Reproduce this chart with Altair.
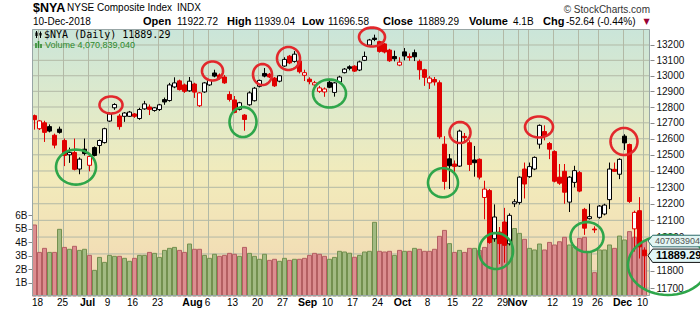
import altair as alt
import numpy as np
import pandas as pd

# ---------------- data ----------------
# trading days 15-Jun-2018 (index 0) ... 10-Dec-2018 (index 122)
OPEN = [12745, 12663, 12700, 12676, 12622, 12660, 12589, 12500, 12514, 12412,
        12535, 12435, 12545, 12558, 12576, 12711, 12795, 12743, 12741, 12741,
        12756, 12727, 12788, 12800, 12778, 12784, 12847, 12841, 12928, 12967,
        12941, 12903, 12947, 12808, 12896, 12941, 13018, 13005, 12992, 12880,
        12845, 12785, 12749, 12814, 12840, 12932, 13015, 13010, 12985, 12965,
        13063, 13127, 13093, 13095, 13003, 12978, 12941, 12900, 12896, 12958,
        12893, 12960, 13020, 13058, 13062, 13037, 13100, 13200, 13245, 13222,
        13207, 13167, 13125, 13069, 13155, 13125, 13150, 13093, 13039, 12954,
        12976, 12955, 12566, 12475, 12443, 12430, 12615, 12575, 12468, 12472,
        12238, 12280, 11990, 12030, 12090, 11960, 12200, 12208, 12412, 12365,
        12412, 12566, 12645, 12570, 12520, 12362, 12398, 12210, 12330, 12390,
        12166, 12110, 12048, 12118, 12138, 12225, 12410, 12380, 12616, 12564,
        12049, 12158, 11922.72]
HIGH = [12752, 12718, 12713, 12690, 12632, 12676, 12601, 12545, 12601, 12484,
        12601, 12502, 12552, 12595, 12669, 12768, 12824, 12756, 12768, 12775,
        12762, 12795, 12839, 12816, 12800, 12820, 12860, 12954, 12990, 12975,
        12950, 12992, 12955, 12895, 12960, 12975, 13039, 13015, 13005, 12900,
        12870, 12833, 12755, 12900, 12928, 12975, 13050, 13018, 12992, 13005,
        13120, 13135, 13160, 13100, 13039, 12990, 12967, 12935, 12925, 12980,
        12960, 13000, 13050, 13068, 13068, 13098, 13157, 13240, 13268, 13228,
        13212, 13175, 13163, 13120, 13180, 13145, 13170, 13105, 13045, 12998,
        12992, 12970, 12616, 12505, 12465, 12657, 12636, 12590, 12555, 12478,
        12340, 12290, 12196, 12060, 12175, 12142, 12228, 12368, 12452, 12452,
        12490, 12690, 12684, 12580, 12528, 12443, 12443, 12368, 12432, 12400,
        12175, 12200, 12064, 12192, 12200, 12452, 12452, 12478, 12628, 12570,
        12158, 12240, 11939.04]
LOW = [12657, 12655, 12580, 12640, 12540, 12632, 12430, 12450, 12404, 12380,
       12496, 12398, 12490, 12508, 12570, 12706, 12782, 12657, 12706, 12737,
       12731, 12719, 12782, 12749, 12770, 12775, 12814, 12834, 12920, 12905,
       12890, 12897, 12858, 12800, 12890, 12935, 12990, 12975, 12948, 12835,
       12760, 12778, 12650, 12808, 12835, 12925, 12990, 12985, 12928, 12958,
       13058, 13075, 13085, 13015, 12966, 12945, 12930, 12890, 12865, 12920,
       12866, 12955, 13015, 13035, 13025, 13030, 13095, 13195, 13225, 13150,
       13145, 13090, 13093, 13062, 13100, 13097, 13095, 12975, 12935, 12915,
       12937, 12600, 12286, 12290, 12395, 12425, 12575, 12400, 12365, 12348,
       12106, 11960, 11972, 11840, 11848, 11950, 12180, 12195, 12232, 12358,
       12405, 12538, 12590, 12473, 12330, 12315, 12200, 12150, 12300, 12270,
       12013, 12105, 12025, 12110, 12130, 12168, 12395, 12350, 12530, 12205,
       11914, 11873, 11696.58]
CLOSE = [12720, 12712, 12640, 12648, 12560, 12640, 12496, 12515, 12410, 12473,
         12508, 12490, 12496, 12589, 12663, 12756, 12816, 12676, 12762, 12768,
         12741, 12784, 12820, 12785, 12795, 12814, 12832, 12941, 12954, 12911,
         12900, 12965, 12895, 12890, 12954, 12970, 12998, 12985, 12954, 12848,
         12766, 12827, 12721, 12890, 12920, 12970, 12998, 12992, 12935, 13000,
         13106, 13083, 13140, 13026, 13020, 12962, 12955, 12922, 12915, 12926,
         12954, 12992, 13043, 13048, 13030, 13090, 13125, 13233, 13236, 13158,
         13154, 13097, 13110, 13088, 13128, 13118, 13123, 13039, 12990, 12985,
         12960, 12612, 12336, 12432, 12428, 12648, 12608, 12440, 12451, 12362,
         12289, 11968, 12120, 11961, 11951, 12130, 12212, 12362, 12320, 12427,
         12484, 12684, 12618, 12535, 12337, 12325, 12270, 12362, 12402, 12277,
         12053, 12122, 12043, 12186, 12192, 12412, 12398, 12472, 12574, 12214,
         12148, 11941.93, 11889.29]
VOLUME_B = [5.26, 3.23, 3.53, 3.23, 3.23, 4.94, 3.60, 3.46, 3.68, 3.38,
            3.46, 3.01, 1.90, 2.86, 2.49, 3.01, 2.94, 2.94, 2.79, 2.57,
            2.79, 3.01, 3.01, 3.23, 3.16, 2.86, 3.38, 3.53, 3.60, 3.38,
            3.23, 3.85, 3.46, 3.46, 3.01, 2.79, 3.09, 2.94, 3.01, 3.16,
            3.09, 2.94, 3.60, 3.16, 2.94, 2.72, 3.09, 2.64, 2.72, 2.57,
            2.79, 2.64, 2.72, 2.72, 2.79, 3.01, 3.16, 3.09, 2.94, 2.72,
            2.86, 3.31, 3.26, 3.17, 2.87, 3.01, 3.26, 3.31, 5.46, 3.31,
            3.26, 3.31, 3.01, 3.38, 3.31, 3.31, 3.53, 3.46, 3.31, 3.31,
            3.46, 4.42, 4.86, 3.88, 3.23, 3.38, 3.23, 3.53, 3.53, 3.38,
            3.60, 4.05, 4.25, 4.60, 4.50, 5.05, 5.00, 4.64, 4.20, 3.53,
            3.41, 3.85, 3.41, 3.97, 3.78, 4.02, 4.35, 3.78, 3.65, 4.27,
            4.35, 3.28, 1.73, 3.41, 3.41, 3.78, 3.53, 4.44, 4.15, 4.77,
            4.35, 4.15, 4.07]
PREV_CLOSE = 12780.0          # close of the day before the first bar
LAST_VOLUME = 4070839040
LAST_DATE = "10-Dec-2018"

LABEL_IDX = [1, 6, 11, 15, 20, 25, 32, 35, 40, 45, 50, 55, 59, 64, 69, 74, 79,
             84, 89, 94, 97, 104, 109, 113, 118, 122]
LABEL_TXT = ["18", "25", "Jul", "9", "16", "23", "Aug", "6", "13", "20", "27",
             "Sep", "10", "17", "24", "Oct", "8", "15", "22", "29", "Nov", "12",
             "19", "26", "Dec", "10"]
MONTHS = {"Jul", "Aug", "Sep", "Oct", "Nov", "Dec"}
GRID_IDX = [1, 6, 11, 15, 20, 25, 30, 32, 35, 40, 45, 50, 55, 59, 64, 69, 74,
            79, 84, 89, 94, 97, 99, 104, 109, 113, 118, 122]
PRICE_TICKS = [11700, 11800, 11900, 12000, 12100, 12200, 12300, 12400, 12500,
               12600, 12700, 12800, 12900, 13000, 13100, 13200]
VOL_TICKS_B = [1, 2, 3, 4, 5, 6]

# hand-drawn circles (centre in bar units / price, size in px)
ANN_X = [15.3, 35.6, 45.6, 50.8, 67.5, 85.1, 100.9, 117.9,
         8.3, 41.7, 59.0, 81.7, 92.3, 110.5, 126.7]
ANN_P = [12813, 13031, 13008, 13112, 13252, 12639, 12674, 12583,
         12424, 12705, 12886, 12328, 11917, 12000, 11835]
ANN_W = [23, 21, 19, 23, 26, 21, 28, 27, 40, 27, 33, 30, 34, 33, 80]
ANN_H = [17, 19, 21, 23, 19, 21, 21, 27, 35, 30, 28, 29, 36, 30, 60]
ANN_KIND = ["peak"] * 8 + ["trough"] * 7

# ---------------- styling ----------------
FONT = "Liberation Sans"
W, H = 618, 267
RED = "#e00000"
BLACK = "#000000"
GRID = "#b2b9a6"
XS = alt.Scale(domain=[-0.5, 123.1], nice=False, zero=False)
PS = alt.Scale(type="log", domain=[11654.1, 13305.2], nice=False, zero=False)
VS = alt.Scale(domain=[0, 19.78e9], nice=False, zero=False)

n = len(CLOSE)
prev = [PREV_CLOSE] + CLOSE[:-1]
col = [RED if c < p else BLACK for c, p in zip(CLOSE, prev)]
fillc = ["#ffffff" if c > o else k for o, c, k in zip(OPEN, CLOSE, col)]
vfill = ["#dc8d8f" if k == RED else "#a2ba82" for k in col]
vstroke = ["#b45f62" if k == RED else "#73904f" for k in col]
idx = np.arange(n)
df = pd.DataFrame({
    "idx": idx, "open": OPEN, "high": HIGH, "low": LOW, "close": CLOSE,
    "vol": np.array(VOLUME_B) * 1e9, "col": col, "fillc": fillc,
    "vfill": vfill, "vstroke": vstroke,
    "bx0": idx - 0.4, "bx1": idx + 0.4,
})


def ellipse_path(w, h, k=56):
    r = h / w
    t = np.linspace(0, 2 * np.pi, k, endpoint=False)
    pts = [f"{np.cos(a):.4f},{r * np.sin(a):.4f}" for a in t]
    return "M" + " L".join(pts) + " Z"


adf = pd.DataFrame({
    "ai": ANN_X, "ap": ANN_P,
    "path": [ellipse_path(w, h) for w, h in zip(ANN_W, ANN_H)],
    "sz": [w * w for w in ANN_W],
    "c": ["#e2282c" if k == "peak" else "#2ea64a" for k in ANN_KIND],
})

ONE = pd.DataFrame({"a": [0]})
last = pd.DataFrame({
    "lc": [CLOSE[-1]], "lv": [LAST_VOLUME],
    "lctxt": [f"{CLOSE[-1]:.2f}"], "lvtxt": [f"{LAST_VOLUME}"],
})
labdf = pd.DataFrame({"li": LABEL_IDX, "lt": LABEL_TXT,
                      "m": [t in MONTHS for t in LABEL_TXT]})

layers = []

bg = alt.Chart(ONE).mark_rect(fill={
    "gradient": "linear", "x1": 0, "x2": 0, "y1": 0, "y2": 1,
    "stops": [
        {"offset": 0.0, "color": "#cae5d9"},
        {"offset": 0.3, "color": "#e0eaca"},
        {"offset": 0.55, "color": "#f2ebbb"},
        {"offset": 0.8, "color": "#f2e0b6"},
        {"offset": 1.0, "color": "#f0d3b3"},
    ]}).encode(x=alt.value(0), x2=alt.value(W), y=alt.value(0), y2=alt.value(H))
layers.append(bg)

hgrid = alt.Chart(pd.DataFrame({"p": PRICE_TICKS})).mark_rule(
    color=GRID, strokeWidth=1).encode(
    y=alt.Y("p:Q", scale=PS, axis=None), x=alt.value(0), x2=alt.value(W))
vgrid = alt.Chart(pd.DataFrame({"g": GRID_IDX})).transform_calculate(
    gx="datum.g - 0.2").mark_rule(color=GRID, strokeWidth=1).encode(
    x=alt.X("gx:Q", scale=XS, axis=None), y=alt.value(0), y2=alt.value(H))
layers += [hgrid, vgrid]

vol = alt.Chart(df).mark_rect(strokeWidth=1).encode(
    x=alt.X("bx0:Q", scale=XS, axis=None), x2="bx1:Q",
    y=alt.Y("vol:Q", scale=VS, axis=alt.Axis(
        orient="left", values=[v * 1e9 for v in VOL_TICKS_B],
        labelExpr="datum.value / 1e9 + 'B'", tickSize=4, labelPadding=1,
        domain=False, grid=False, title=None, labelFontSize=10,
        labelFont=FONT, labelColor="#111", tickColor="#888")),
    y2=alt.value(H),
    fill=alt.Fill("vfill:N", scale=None), stroke=alt.Stroke("vstroke:N", scale=None))
layers.append(vol)

wick = alt.Chart(df).mark_rule(strokeWidth=1).encode(
    x=alt.X("idx:Q", scale=XS, axis=None),
    y=alt.Y("low:Q", scale=PS, axis=alt.Axis(
        orient="right", values=PRICE_TICKS, format="d", tickSize=4,
        labelPadding=2, domain=False, grid=False, title=None,
        labelFontSize=10, labelFont=FONT, labelColor="#111", tickColor="#888")),
    y2="high:Q", color=alt.Color("col:N", scale=None))
body = alt.Chart(df).mark_rect(strokeWidth=1).encode(
    x=alt.X("bx0:Q", scale=XS, axis=None), x2="bx1:Q",
    y=alt.Y("open:Q", scale=PS, axis=None), y2="close:Q",
    fill=alt.Fill("fillc:N", scale=None), stroke=alt.Stroke("col:N", scale=None))
layers += [wick, body]

frame = alt.Chart(ONE).mark_rect(fill="transparent", stroke="#98a6a6",
                                 strokeWidth=1).encode(
    x=alt.value(0.5), x2=alt.value(W - 0.5), y=alt.value(0.5), y2=alt.value(H - 0.5))
layers.append(frame)

ann = alt.Chart(adf).mark_point(filled=False, strokeWidth=2.6, opacity=1).encode(
    x=alt.X("ai:Q", scale=XS, axis=None), y=alt.Y("ap:Q", scale=PS, axis=None),
    shape=alt.Shape("path:N", scale=None), size=alt.Size("sz:Q", scale=None),
    color=alt.Color("c:N", scale=None))
layers.append(ann)

TAG = "M-1,0 L-0.84,-0.2 L1,-0.2 L1,0.2 L-0.84,0.2 Z"
vtag = alt.Chart(last).mark_point(shape=TAG, size=58 * 58, filled=True,
                                  fill="#e2f5f3", stroke="#2c6a6a",
                                  strokeWidth=1, opacity=1).encode(
    x=alt.value(645), y=alt.Y("lv:Q", scale=VS, axis=None))
vtxt = alt.Chart(last).mark_text(align="left", baseline="middle", fontSize=9,
                                 font=FONT, color="#555").encode(
    x=alt.value(623), y=alt.Y("lv:Q", scale=VS, axis=None), text="lvtxt:N")
ptag = alt.Chart(last).mark_point(shape="M-1,0 L-0.84,-0.23 L1,-0.23 L1,0.23 L-0.84,0.23 Z",
                                  size=58 * 58, filled=True, fill="#e2f7f7",
                                  stroke="#111111", strokeWidth=1, opacity=1).encode(
    x=alt.value(645), y=alt.Y("lc:Q", scale=PS, axis=None))
ptxt = alt.Chart(last).mark_text(align="left", baseline="middle", fontSize=11,
                                 fontWeight="bold", font=FONT, color="#000").encode(
    x=alt.value(624), y=alt.Y("lc:Q", scale=PS, axis=None), text="lctxt:N")
layers += [vtag, vtxt, ptag, ptxt]

xday = alt.Chart(labdf).transform_filter("!datum.m").mark_text(
    fontSize=10, font=FONT, baseline="middle", dx=-2, color="#000").encode(
    x=alt.X("li:Q", scale=XS, axis=None), y=alt.value(274), text="lt:N")
xmon = alt.Chart(labdf).transform_filter("datum.m").mark_text(
    fontSize=10.5, fontWeight="bold", font=FONT, baseline="middle", dx=-2,
    color="#000").encode(
    x=alt.X("li:Q", scale=XS, axis=None), y=alt.value(274), text="lt:N")
layers += [xday, xmon]


def label(s, x, y, size=10, weight="normal", color="#000", align="left", font=FONT):
    return alt.Chart(ONE).mark_text(text=s, align=align, baseline="middle",
                                    fontSize=size, fontWeight=weight,
                                    color=color, font=font).encode(
        x=alt.value(x), y=alt.value(y))


def icon_rule(x, y0, y1, color, width=1):
    return alt.Chart(ONE).mark_rule(color=color, strokeWidth=width).encode(
        x=alt.value(x), y=alt.value(y0), y2=alt.value(y1))


# small legend icons (decoration only)
layers += [
    icon_rule(4.5, 2, 9, "#000"), icon_rule(4.5, 3.5, 7, "#000", 2.2),
    icon_rule(8.5, 2.5, 9, "#000"), icon_rule(8.5, 4, 6.5, "#000", 2.2),
    icon_rule(4, 14, 19, "#2d8a2d", 1.6), icon_rule(6.5, 12, 19, "#2d8a2d", 1.6),
    icon_rule(9, 15, 19, "#2d8a2d", 1.6),
]

chg = CLOSE[-1] - CLOSE[-2]
pct = chg / CLOSE[-2] * 100
layers += [
    label("$NYA", 1, -21, size=12.5, weight="bold"),
    label("NYSE Composite Index", 35, -21),
    label("INDX", 145, -21),
    label("\u00a9 StockCharts.com", 618, -19.5, color="#333", align="right"),
    label(LAST_DATE, 1, -7),
    label("Open", 111, -7, size=11, weight="bold"),
    label(f"{OPEN[-1]:.2f}", 145, -7),
    label("High", 195, -7, size=11, weight="bold"),
    label(f"{HIGH[-1]:.2f}", 222, -7),
    label("Low", 270, -7, size=11, weight="bold"),
    label(f"{LOW[-1]:.2f}", 296, -7),
    label("Close", 351, -7, size=11, weight="bold"),
    label(f"{CLOSE[-1]:.2f}", 386, -7),
    label("Volume", 437, -7, size=11, weight="bold"),
    label(f"{LAST_VOLUME / 1e9:.1f}B", 481, -7),
    label("Chg", 511, -7, size=11, weight="bold"),
    label(f"{chg:.2f} ({pct:.2f}%)", 534, -7),
    label("\u25bc", 614.5, -7, size=8, color="#990033", align="center", font="DejaVu Sans"),
    label(f"$NYA (Daily) {CLOSE[-1]:.2f}", 12, 6, size=10, font="DejaVu Sans Mono"),
    label(f"Volume {LAST_VOLUME:,}", 13, 16, size=9, color="#2d8a2d"),
]

chart = alt.layer(*layers).resolve_scale(y="independent").properties(
    width=W, height=H,
    padding={"left": 32, "top": 29, "right": 50, "bottom": 16},
    autosize=alt.AutoSizeParams(type="none"),
).configure(background="white").configure_view(strokeWidth=0)

chart.save("out.html", embed_options={"renderer": "svg", "actions": False})
